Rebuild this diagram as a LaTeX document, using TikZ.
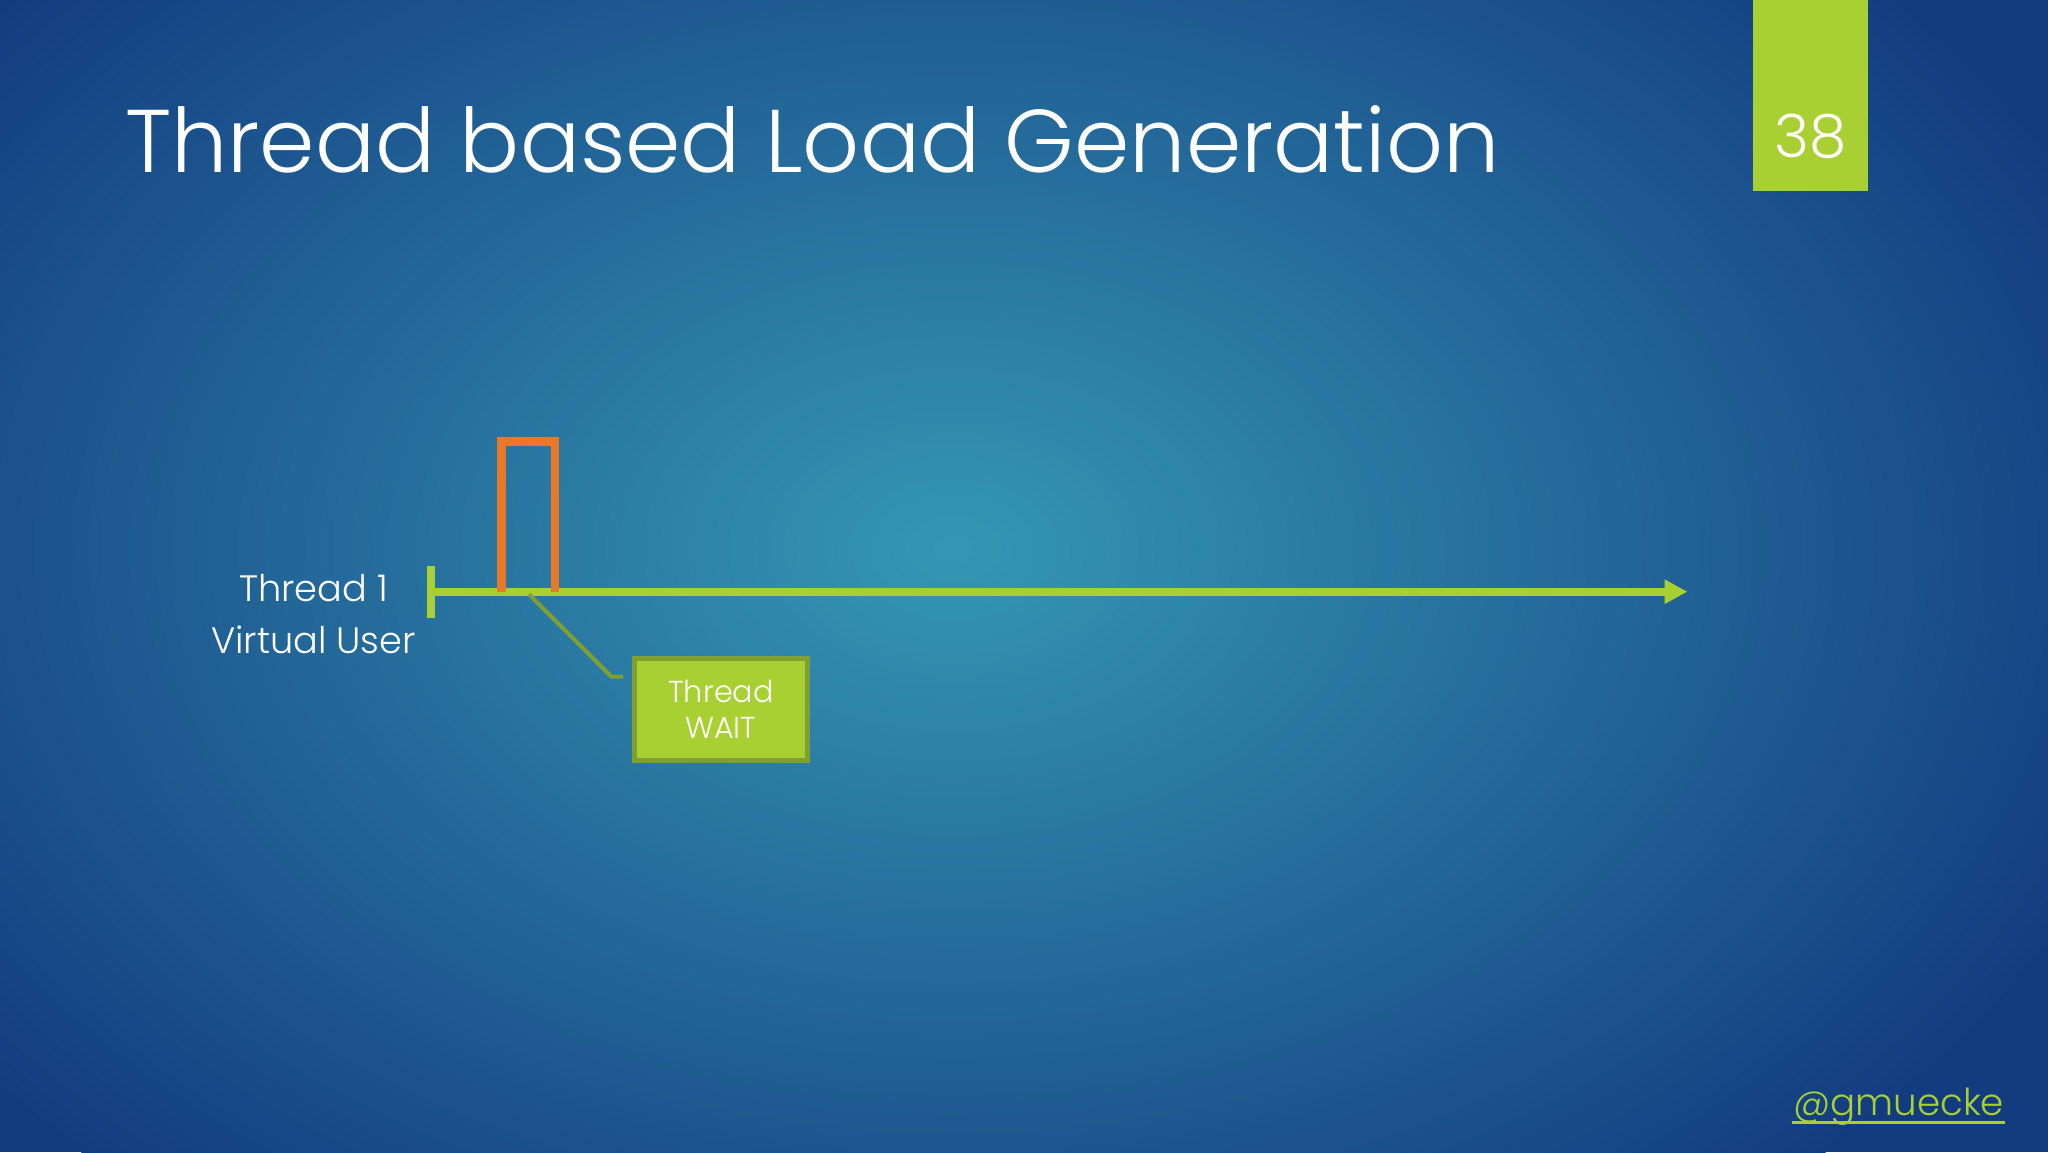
\documentclass[tikz,border=0pt]{standalone}
\usepackage{fontspec}
\setmainfont{Poppins}[UprightFont=* Light]
\usetikzlibrary{arrows.meta}
\definecolor{lg}{HTML}{A8D032}
\definecolor{dg}{HTML}{7FA030}
\definecolor{org}{HTML}{E8782A}
\definecolor{ctr}{HTML}{3597B4}
\definecolor{edge}{HTML}{133C80}
\begin{document}
\begin{tikzpicture}[x=1cm,y=-1cm,
  axis/.style={lg,line width=1.7pt},
  pulse/.style={org,line width=1.9pt},
  wbox/.style={fill=lg,draw=dg,line width=1.1pt,minimum width=1.32cm,minimum height=0.78cm,inner sep=0pt,text=white,align=center,font=\fontsize{6.6pt}{8pt}\selectfont}]
\useasboundingbox (0,0) rectangle (15.68,8.82);
\fill[edge] (0,0) rectangle (15.68,8.82);
\begin{scope}
\clip (0,0) rectangle (15.68,8.82);
\shade[inner color=ctr,outer color=edge] (7.3,4.2) ellipse (9.5 and 6.5);
\end{scope}
\node[anchor=base west,text=white,font=\fontsize{19.4pt}{23pt}\selectfont,inner sep=0pt] (title) at (0.95,1.32) {Thread based Load Generation};
\fill[lg] (13.42,0) rectangle (14.30,1.46);
\node[text=white,font=\fontsize{13pt}{15pt}\selectfont] (num) at (13.86,1.04) {38};
\coordinate (a0) at (3.30,4.53);
\coordinate (a1) at (12.92,4.53);
\draw[axis,-{Triangle[length=5pt,width=5pt]}] (a0) -- (a1);
\coordinate (t0) at (3.30,4.33);
\coordinate (t1) at (3.30,4.73);
\draw[axis] (t0) -- (t1);
\coordinate (p0) at (3.84,4.53);
\coordinate (p1) at (3.84,3.38);
\coordinate (p2) at (4.25,3.38);
\coordinate (p3) at (4.25,4.53);
\draw[pulse] (p0) -- (p1) -- (p2) -- (p3);
\node[align=center,text=white,font=\fontsize{8pt}{11.3pt}\selectfont,inner sep=0pt] (lbl) at (2.40,4.70) {Thread 1\\Virtual User};
\node[wbox] (wait) at (5.52,5.43) {Thread\\WAIT};
\coordinate (c0) at (4.05,4.55);
\coordinate (c1) at (4.68,5.18);
\coordinate (c2) at (4.77,5.18);
\draw[dg,line width=0.9pt] (c0) -- (c1) -- (c2);
\node[anchor=base east,text=lg,font=\fontsize{8.1pt}{10pt}\selectfont,inner sep=0pt] (tw) at (15.35,8.54) {@gmuecke};
\draw[lg,line width=0.6pt] ([yshift=-1.5pt]tw.base west) -- ([yshift=-1.5pt]tw.base east);
\end{tikzpicture}
\end{document}
